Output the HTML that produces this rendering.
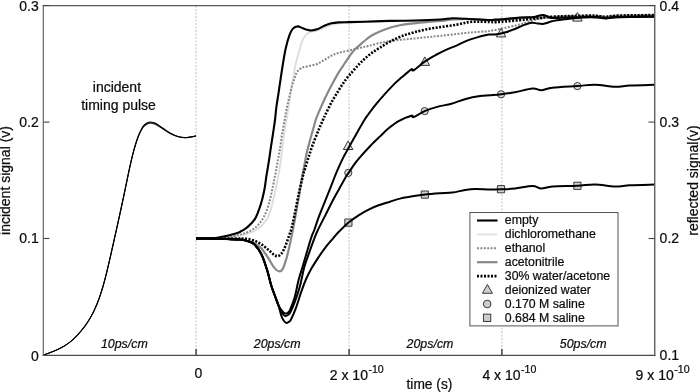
<!DOCTYPE html>
<html><head><meta charset="utf-8"><title>TDR plot</title>
<style>html,body{margin:0;padding:0;background:#fff}body{width:700px;height:392px;position:relative;overflow:hidden}</style></head>
<body>
<svg width="700" height="392" viewBox="0 0 700 392" style="position:absolute;left:0;top:0">
<line x1="196.1" y1="5.5" x2="196.1" y2="355.0" stroke="#c6c6c6" stroke-width="1.1" stroke-dasharray="2.1,1.4"/>
<line x1="349.1" y1="5.5" x2="349.1" y2="355.0" stroke="#c6c6c6" stroke-width="1.1" stroke-dasharray="2.1,1.4"/>
<line x1="501.9" y1="5.5" x2="501.9" y2="355.0" stroke="#c6c6c6" stroke-width="1.1" stroke-dasharray="2.1,1.4"/>
<g fill="none" stroke-linejoin="round">
<path d="M43.60,355.00C45.38,354.33 50.85,352.50 54.30,351.00C57.75,349.50 61.19,347.90 64.30,346.00C67.41,344.10 70.14,342.15 72.97,339.60C75.81,337.05 78.85,333.67 81.33,330.71C83.81,327.74 85.91,324.78 87.84,321.82C89.78,318.85 91.42,315.89 92.95,312.93C94.47,309.96 95.78,307.00 97.00,304.03C98.22,301.07 99.28,298.11 100.28,295.14C101.29,292.18 102.18,289.22 103.04,286.25C103.90,283.29 104.68,280.32 105.44,277.36C106.21,274.40 106.92,271.43 107.63,268.47C108.34,265.51 109.02,262.54 109.71,259.58C110.39,256.61 111.05,253.65 111.72,250.69C112.39,247.72 113.05,244.76 113.71,241.80C114.38,238.83 115.04,235.87 115.70,232.90C116.36,229.94 117.02,226.98 117.68,224.01C118.33,221.05 118.99,218.09 119.64,215.12C120.29,212.16 120.93,209.19 121.57,206.23C122.21,203.27 122.84,200.30 123.46,197.34C124.09,194.38 124.70,191.41 125.32,188.45C125.94,185.48 126.55,182.52 127.16,179.56C127.78,176.59 128.39,173.63 129.03,170.67C129.67,167.70 130.30,164.74 130.99,161.77C131.68,158.81 132.37,155.85 133.15,152.88C133.92,149.92 134.72,146.96 135.65,143.99C136.57,141.03 137.47,138.00 138.68,135.10C139.89,132.20 141.50,128.62 142.90,126.60C144.30,124.58 145.80,123.77 147.10,123.00C148.40,122.23 149.27,121.93 150.70,122.00C152.13,122.07 153.67,122.35 155.70,123.40C157.73,124.45 160.52,126.70 162.90,128.30C165.28,129.90 167.63,131.67 170.00,133.00C172.37,134.33 174.72,135.53 177.10,136.30C179.48,137.07 181.92,137.50 184.30,137.60C186.68,137.70 189.45,137.18 191.40,136.90C193.35,136.62 195.23,136.07 196.00,135.90" stroke="#000" stroke-width="1.2"/>
<path d="M43.60,355.00C45.38,354.33 50.85,352.50 54.30,351.00C57.75,349.50 61.19,347.90 64.30,346.00C67.41,344.10 70.14,342.15 72.97,339.60C75.81,337.05 78.85,333.67 81.33,330.71C83.81,327.74 85.91,324.78 87.84,321.82C89.78,318.85 91.42,315.89 92.95,312.93C94.47,309.96 95.78,307.00 97.00,304.03C98.22,301.07 99.28,298.11 100.28,295.14C101.29,292.18 102.18,289.22 103.04,286.25C103.90,283.29 104.68,280.32 105.44,277.36C106.21,274.40 106.92,271.43 107.63,268.47C108.34,265.51 109.02,262.54 109.71,259.58C110.39,256.61 111.05,253.65 111.72,250.69C112.39,247.72 113.05,244.76 113.71,241.80C114.38,238.83 115.04,235.87 115.70,232.90C116.36,229.94 117.02,226.98 117.68,224.01C118.33,221.05 118.99,218.09 119.64,215.12C120.29,212.16 120.93,209.19 121.57,206.23C122.21,203.27 122.84,200.30 123.46,197.34C124.09,194.38 124.70,191.41 125.32,188.45C125.94,185.48 126.55,182.52 127.16,179.56C127.78,176.59 128.39,173.63 129.03,170.67C129.67,167.70 130.30,164.74 130.99,161.77C131.68,158.81 132.37,155.75 133.15,152.88C133.92,150.02 134.72,147.46 135.65,144.59C136.57,141.73 137.47,138.48 138.68,135.70C139.89,132.92 141.50,129.80 142.90,127.90C144.30,126.00 145.80,125.07 147.10,124.30C148.40,123.53 149.27,123.23 150.70,123.30C152.13,123.37 153.67,123.77 155.70,124.70C157.73,125.63 160.52,127.52 162.90,128.90C165.28,130.28 167.63,131.77 170.00,133.00C172.37,134.23 174.72,135.53 177.10,136.30C179.48,137.07 181.92,137.50 184.30,137.60C186.68,137.70 189.45,137.18 191.40,136.90C193.35,136.62 195.23,136.07 196.00,135.90" stroke="#000" stroke-width="0.8"/>
<path d="M43.60,355.00C45.38,354.33 50.85,352.50 54.30,351.00C57.75,349.50 61.19,347.90 64.30,346.00C67.41,344.10 70.14,342.15 72.97,339.60C75.81,337.05 78.85,333.67 81.33,330.71C83.81,327.74 85.91,324.78 87.84,321.82C89.78,318.85 91.42,315.89 92.95,312.93C94.47,309.96 95.78,307.00 97.00,304.03C98.22,301.07 99.28,298.11 100.28,295.14C101.29,292.18 102.18,289.22 103.04,286.25C103.90,283.29 104.68,280.32 105.44,277.36C106.21,274.40 106.92,271.43 107.63,268.47C108.34,265.51 109.02,262.54 109.71,259.58C110.39,256.61 111.05,253.65 111.72,250.69C112.39,247.72 113.05,244.76 113.71,241.80C114.38,238.83 115.04,235.87 115.70,232.90C116.36,229.94 117.02,226.98 117.68,224.01C118.33,221.05 118.99,218.09 119.64,215.12C120.29,212.16 120.93,209.19 121.57,206.23C122.21,203.27 122.84,200.30 123.46,197.34C124.09,194.38 124.70,191.41 125.32,188.45C125.94,185.48 126.55,182.52 127.16,179.56C127.78,176.59 128.39,173.63 129.03,170.67C129.67,167.70 130.30,164.74 130.99,161.77C131.68,158.81 132.37,155.85 133.15,152.88C133.92,149.92 134.72,146.84 135.65,143.99C136.57,141.14 137.47,138.58 138.68,135.80C139.89,133.02 141.50,129.32 142.90,127.30C144.30,125.28 145.80,124.47 147.10,123.70C148.40,122.93 149.27,122.63 150.70,122.70C152.13,122.77 153.67,123.05 155.70,124.10C157.73,125.15 160.52,127.40 162.90,129.00C165.28,130.60 167.63,132.48 170.00,133.70C172.37,134.92 174.72,135.65 177.10,136.30C179.48,136.95 181.92,137.50 184.30,137.60C186.68,137.70 189.45,137.18 191.40,136.90C193.35,136.62 195.23,136.07 196.00,135.90" stroke="#000" stroke-width="0.7"/>
<path d="M196.10,238.40C199.25,238.37 209.77,238.33 215.00,238.20C220.23,238.07 223.52,238.03 227.50,237.60C231.48,237.17 235.82,236.20 238.90,235.60C241.98,235.00 243.43,234.77 246.00,234.00C248.57,233.23 251.73,232.33 254.30,231.00C256.87,229.67 259.13,228.27 261.40,226.00C263.67,223.73 266.12,220.97 267.90,217.40C269.68,213.83 270.85,209.12 272.10,204.60C273.35,200.08 274.37,195.07 275.40,190.30C276.43,185.53 277.30,181.77 278.30,176.00C279.30,170.23 280.45,162.65 281.40,155.70C282.35,148.75 283.17,140.25 284.00,134.30C284.83,128.35 285.57,125.05 286.40,120.00C287.23,114.95 288.15,109.33 289.00,104.00C289.85,98.67 290.73,92.77 291.50,88.00C292.27,83.23 292.90,79.40 293.60,75.40C294.30,71.40 294.87,67.75 295.70,64.00C296.53,60.25 297.53,56.67 298.60,52.90C299.67,49.13 300.92,44.38 302.10,41.40C303.28,38.42 304.38,36.55 305.70,35.00C307.02,33.45 308.10,32.82 310.00,32.10C311.90,31.38 314.72,31.40 317.10,30.70C319.48,30.00 321.92,28.85 324.30,27.90C326.68,26.95 329.27,25.72 331.40,25.00C333.53,24.28 334.83,23.97 337.10,23.60C339.37,23.23 342.85,22.95 345.00,22.80C347.15,22.65 346.67,22.88 350.00,22.70C353.33,22.52 358.33,21.98 365.00,21.70C371.67,21.42 381.67,21.17 390.00,21.00C398.33,20.83 406.67,20.90 415.00,20.70C423.33,20.50 433.75,20.15 440.00,19.80C446.25,19.45 448.33,18.73 452.50,18.60C456.67,18.47 458.75,18.72 465.00,19.00C471.25,19.28 483.92,20.20 490.00,20.30C496.08,20.40 496.58,20.00 501.50,19.60C506.42,19.20 514.47,18.25 519.50,17.90C524.53,17.55 528.28,17.58 531.70,17.50C535.12,17.42 537.45,17.37 540.00,17.40C542.55,17.43 543.43,17.77 547.00,17.70C550.57,17.63 556.62,17.18 561.40,17.00C566.18,16.82 570.93,16.72 575.70,16.60C580.47,16.48 586.18,16.30 590.00,16.30C593.82,16.30 595.98,16.40 598.60,16.60C601.22,16.80 602.85,17.53 605.70,17.50C608.55,17.47 610.93,16.65 615.70,16.40C620.47,16.15 627.87,16.10 634.30,16.00C640.73,15.90 650.97,15.83 654.30,15.80" stroke="#dcdcdc" stroke-width="1.8"/>
<path d="M196.10,238.40C199.25,238.37 209.77,238.37 215.00,238.20C220.23,238.03 223.52,237.95 227.50,237.40C231.48,236.85 236.15,235.57 238.90,234.90C241.65,234.23 242.15,234.05 244.00,233.40C245.85,232.75 247.82,232.23 250.00,231.00C252.18,229.77 254.83,228.27 257.10,226.00C259.37,223.73 261.68,220.97 263.60,217.40C265.52,213.83 267.18,209.12 268.60,204.60C270.02,200.08 271.03,195.07 272.10,190.30C273.17,185.53 274.12,180.57 275.00,176.00C275.88,171.43 276.57,167.47 277.40,162.90C278.23,158.33 279.22,153.37 280.00,148.60C280.78,143.83 281.33,139.07 282.10,134.30C282.87,129.53 283.88,124.10 284.60,120.00C285.32,115.90 285.62,113.55 286.40,109.70C287.18,105.85 288.35,100.95 289.30,96.90C290.25,92.85 291.15,88.73 292.10,85.40C293.05,82.07 294.17,79.15 295.00,76.90C295.83,74.65 296.03,73.38 297.10,71.90C298.17,70.42 299.48,68.97 301.40,68.00C303.32,67.03 305.98,66.77 308.60,66.10C311.22,65.43 314.48,65.02 317.10,64.00C319.72,62.98 321.92,61.38 324.30,60.00C326.68,58.62 329.02,56.88 331.40,55.70C333.78,54.52 335.73,53.75 338.60,52.90C341.47,52.05 345.03,51.43 348.60,50.60C352.17,49.77 356.67,48.68 360.00,47.90C363.33,47.12 364.78,46.83 368.60,45.90C372.42,44.97 378.15,43.25 382.90,42.30C387.65,41.35 392.35,40.78 397.10,40.20C401.85,39.62 406.63,39.28 411.40,38.80C416.17,38.32 420.93,37.78 425.70,37.30C430.47,36.82 434.77,36.47 440.00,35.90C445.23,35.33 451.87,34.48 457.10,33.90C462.33,33.32 466.63,32.82 471.40,32.40C476.17,31.98 481.77,31.80 485.70,31.40C489.63,31.00 491.82,30.57 495.00,30.00C498.18,29.43 501.40,28.73 504.80,28.00C508.20,27.27 512.55,26.28 515.40,25.60C518.25,24.92 519.85,24.52 521.90,23.90C523.95,23.28 525.52,22.58 527.70,21.90C529.88,21.22 532.78,20.38 535.00,19.80C537.22,19.22 539.00,18.72 541.00,18.40C543.00,18.08 543.60,18.10 547.00,17.90C550.40,17.70 556.62,17.38 561.40,17.20C566.18,17.02 570.93,16.92 575.70,16.80C580.47,16.68 586.18,16.50 590.00,16.50C593.82,16.50 595.98,16.60 598.60,16.80C601.22,17.00 602.85,17.73 605.70,17.70C608.55,17.67 610.93,16.85 615.70,16.60C620.47,16.35 627.87,16.30 634.30,16.20C640.73,16.10 650.97,16.03 654.30,16.00" stroke="#858585" stroke-width="2" stroke-dasharray="1.9,1.5"/>
<path d="M196.10,238.40C199.25,238.43 207.68,238.38 215.00,238.60C222.32,238.82 234.67,239.35 240.00,239.75C245.33,240.15 244.62,240.47 247.00,241.00C249.38,241.53 251.90,241.63 254.30,242.90C256.70,244.17 259.02,245.98 261.40,248.60C263.78,251.22 266.45,255.38 268.60,258.60C270.75,261.82 272.52,265.77 274.30,267.90C276.08,270.03 277.87,271.28 279.30,271.40C280.73,271.52 281.72,270.73 282.90,268.60C284.08,266.47 285.33,262.18 286.40,258.60C287.47,255.02 288.47,250.68 289.30,247.10C290.13,243.52 290.80,239.95 291.40,237.10C292.00,234.25 292.13,234.02 292.90,230.00C293.67,225.98 294.98,218.67 296.00,213.00C297.02,207.33 298.08,201.42 299.00,196.00C299.92,190.58 300.62,185.55 301.50,180.50C302.38,175.45 303.48,170.07 304.30,165.70C305.12,161.33 305.57,158.10 306.40,154.30C307.23,150.50 308.22,146.95 309.30,142.90C310.38,138.85 311.83,133.82 312.90,130.00C313.97,126.18 314.75,122.90 315.70,120.00C316.65,117.10 317.17,115.98 318.60,112.60C320.03,109.22 322.17,104.23 324.30,99.70C326.43,95.17 329.02,89.92 331.40,85.40C333.78,80.88 336.45,76.17 338.60,72.60C340.75,69.03 342.40,66.85 344.30,64.00C346.20,61.15 348.33,57.83 350.00,55.50C351.67,53.17 352.63,51.78 354.30,50.00C355.97,48.22 357.62,46.87 360.00,44.80C362.38,42.73 366.10,39.43 368.60,37.60C371.10,35.77 372.62,35.03 375.00,33.80C377.38,32.57 380.40,31.22 382.90,30.20C385.40,29.18 387.63,28.43 390.00,27.70C392.37,26.97 393.53,26.47 397.10,25.80C400.67,25.13 406.63,24.30 411.40,23.70C416.17,23.10 420.93,22.67 425.70,22.20C430.47,21.73 437.13,21.15 440.00,20.90C442.87,20.65 440.82,20.93 442.90,20.70C444.98,20.47 448.82,19.80 452.50,19.50C456.18,19.20 460.83,18.90 465.00,18.90C469.17,18.90 473.33,19.28 477.50,19.50C481.67,19.72 486.00,20.17 490.00,20.20C494.00,20.23 496.58,20.07 501.50,19.70C506.42,19.33 514.47,18.35 519.50,18.00C524.53,17.65 528.28,17.68 531.70,17.60C535.12,17.52 537.45,17.57 540.00,17.50C542.55,17.43 543.43,17.37 547.00,17.20C550.57,17.03 556.62,16.68 561.40,16.50C566.18,16.32 570.93,16.22 575.70,16.10C580.47,15.98 586.18,15.80 590.00,15.80C593.82,15.80 595.98,15.90 598.60,16.10C601.22,16.30 602.85,17.03 605.70,17.00C608.55,16.97 610.93,16.15 615.70,15.90C620.47,15.65 627.87,15.60 634.30,15.50C640.73,15.40 650.97,15.33 654.30,15.30" stroke="#888" stroke-width="2.2"/>
<path d="M343.30,149.50 L352.90,149.50 L348.10,141.00 Z" fill="#dedede" stroke="#3a3a3a" stroke-width="1" stroke-linejoin="miter"/>
<path d="M420.00,65.40 L429.60,65.40 L424.80,56.90 Z" fill="#dedede" stroke="#3a3a3a" stroke-width="1" stroke-linejoin="miter"/>
<path d="M496.30,36.90 L505.90,36.90 L501.10,28.40 Z" fill="#dedede" stroke="#3a3a3a" stroke-width="1" stroke-linejoin="miter"/>
<path d="M572.60,21.10 L582.20,21.10 L577.40,12.60 Z" fill="#dedede" stroke="#3a3a3a" stroke-width="1" stroke-linejoin="miter"/>
<circle cx="348.30" cy="172.90" r="3.60" fill="#dadada" stroke="#3a3a3a" stroke-width="1"/>
<circle cx="424.70" cy="111.10" r="3.60" fill="#dadada" stroke="#3a3a3a" stroke-width="1"/>
<circle cx="501.10" cy="94.30" r="3.60" fill="#dadada" stroke="#3a3a3a" stroke-width="1"/>
<circle cx="577.40" cy="86.10" r="3.60" fill="#dadada" stroke="#3a3a3a" stroke-width="1"/>
<rect x="344.80" y="219.00" width="7.20" height="7.20" fill="#d0d0d0" stroke="#3a3a3a" stroke-width="1"/>
<rect x="421.20" y="191.00" width="7.20" height="7.20" fill="#d0d0d0" stroke="#3a3a3a" stroke-width="1"/>
<rect x="497.40" y="185.60" width="7.20" height="7.20" fill="#d0d0d0" stroke="#3a3a3a" stroke-width="1"/>
<rect x="573.80" y="182.20" width="7.20" height="7.20" fill="#d0d0d0" stroke="#3a3a3a" stroke-width="1"/>
<path d="M196.10,238.40C199.25,238.45 209.77,238.58 215.00,238.70C220.23,238.82 223.52,238.95 227.50,239.10C231.48,239.25 235.63,239.30 238.90,239.60C242.17,239.90 244.53,240.12 247.10,240.90C249.67,241.68 251.92,242.07 254.30,244.30C256.68,246.53 259.27,250.02 261.40,254.30C263.53,258.58 265.43,264.72 267.10,270.00C268.77,275.28 270.08,281.67 271.40,286.00C272.72,290.33 273.80,292.72 275.00,296.00C276.20,299.28 277.35,303.12 278.60,305.70C279.85,308.28 281.37,310.18 282.50,311.50C283.63,312.82 284.48,313.43 285.40,313.60C286.32,313.77 287.23,313.10 288.00,312.50C288.77,311.90 288.95,312.32 290.00,310.00C291.05,307.68 293.23,301.93 294.30,298.60C295.37,295.27 295.68,293.10 296.40,290.00C297.12,286.90 297.52,284.05 298.60,280.00C299.68,275.95 301.48,270.47 302.90,265.70C304.32,260.93 305.68,256.17 307.10,251.40C308.52,246.63 310.20,240.67 311.40,237.10C312.60,233.53 313.10,233.28 314.30,230.00C315.50,226.72 316.93,221.88 318.60,217.40C320.27,212.92 322.40,207.85 324.30,203.10C326.20,198.35 328.22,193.42 330.00,188.90C331.78,184.38 333.65,179.38 335.00,176.00C336.35,172.62 336.68,171.75 338.10,168.60C339.52,165.45 341.42,161.15 343.50,157.10C345.58,153.05 348.22,148.58 350.60,144.30C352.98,140.02 355.50,135.45 357.80,131.40C360.10,127.35 362.60,122.90 364.40,120.00C366.20,117.10 366.72,116.55 368.60,114.00C370.48,111.45 373.08,107.92 375.70,104.70C378.32,101.48 381.43,97.92 384.30,94.70C387.17,91.48 390.05,88.25 392.90,85.40C395.75,82.55 398.32,80.28 401.40,77.60C404.48,74.92 409.37,70.52 411.40,69.30C413.43,68.08 411.33,71.62 413.60,70.30C415.87,68.98 421.32,63.95 425.00,61.40C428.68,58.85 432.02,57.02 435.70,55.00C439.38,52.98 443.53,50.92 447.10,49.30C450.67,47.68 453.77,46.75 457.10,45.30C460.43,43.85 463.77,41.92 467.10,40.60C470.43,39.28 473.52,38.40 477.10,37.40C480.68,36.40 485.62,35.08 488.60,34.60C491.58,34.12 492.30,34.85 495.00,34.50C497.70,34.15 501.40,33.45 504.80,32.50C508.20,31.55 512.27,30.03 515.40,28.80C518.53,27.57 520.88,26.12 523.60,25.10C526.32,24.08 529.40,22.97 531.70,22.70C534.00,22.43 535.63,23.30 537.40,23.50C539.17,23.70 540.87,23.95 542.30,23.90C543.73,23.85 544.55,23.60 546.00,23.20C547.45,22.80 549.17,21.98 551.00,21.50C552.83,21.02 554.78,20.67 557.00,20.30C559.22,19.93 561.18,19.70 564.30,19.30C567.42,18.90 571.42,18.25 575.70,17.90C579.98,17.55 586.18,17.27 590.00,17.20C593.82,17.13 595.98,17.30 598.60,17.50C601.22,17.70 602.85,18.43 605.70,18.40C608.55,18.37 610.93,17.55 615.70,17.30C620.47,17.05 627.87,17.00 634.30,16.90C640.73,16.80 650.97,16.73 654.30,16.70" stroke="#000" stroke-width="2"/>
<path d="M196.10,238.40C199.25,238.45 209.77,238.58 215.00,238.70C220.23,238.82 223.52,238.95 227.50,239.10C231.48,239.25 235.63,239.30 238.90,239.60C242.17,239.90 244.53,240.12 247.10,240.90C249.67,241.68 251.92,242.07 254.30,244.30C256.68,246.53 259.27,250.02 261.40,254.30C263.53,258.58 265.43,264.72 267.10,270.00C268.77,275.28 270.08,281.67 271.40,286.00C272.72,290.33 273.80,292.72 275.00,296.00C276.20,299.28 277.35,302.78 278.60,305.70C279.85,308.62 281.37,311.78 282.50,313.50C283.63,315.22 284.45,315.78 285.40,316.00C286.35,316.22 287.35,315.47 288.20,314.80C289.05,314.13 289.40,314.13 290.50,312.00C291.60,309.87 293.22,306.33 294.80,302.00C296.38,297.67 298.42,291.82 300.00,286.00C301.58,280.18 302.87,272.38 304.30,267.10C305.73,261.82 306.93,259.05 308.60,254.30C310.27,249.55 312.75,242.65 314.30,238.60C315.85,234.55 316.00,234.00 317.90,230.00C319.80,226.00 323.20,219.55 325.70,214.60C328.20,209.65 330.52,204.83 332.90,200.30C335.28,195.77 337.75,191.45 340.00,187.40C342.25,183.35 344.97,178.42 346.40,176.00C347.83,173.58 347.28,174.85 348.60,172.90C349.92,170.95 352.17,167.17 354.30,164.30C356.43,161.43 358.78,158.72 361.40,155.70C364.02,152.68 366.90,149.42 370.00,146.20C373.10,142.98 376.90,139.38 380.00,136.40C383.10,133.42 385.50,130.85 388.60,128.30C391.70,125.75 394.80,123.20 398.60,121.10C402.40,119.00 408.90,116.37 411.40,115.70C413.90,115.03 411.38,117.87 413.60,117.10C415.82,116.33 420.78,112.80 424.70,111.10C428.62,109.40 432.65,108.13 437.10,106.90C441.55,105.67 446.63,105.02 451.40,103.70C456.17,102.38 460.93,100.27 465.70,99.00C470.47,97.73 475.95,96.72 480.00,96.10C484.05,95.48 486.46,95.61 490.00,95.30C493.54,94.99 497.08,94.76 501.25,94.25C505.42,93.74 509.79,93.21 515.00,92.25C520.21,91.29 528.12,88.83 532.50,88.50C536.88,88.17 537.92,90.38 541.25,90.25C544.58,90.12 546.46,88.46 552.50,87.75C558.54,87.04 570.42,86.50 577.50,86.00C584.58,85.50 588.75,84.62 595.00,84.75C601.25,84.88 609.17,86.62 615.00,86.75C620.83,86.88 623.45,85.83 630.00,85.50C636.55,85.17 650.25,84.88 654.30,84.75" stroke="#000" stroke-width="2"/>
<path d="M196.10,238.40C199.25,238.45 209.77,238.58 215.00,238.70C220.23,238.82 223.52,238.95 227.50,239.10C231.48,239.25 235.63,239.30 238.90,239.60C242.17,239.90 244.53,240.12 247.10,240.90C249.67,241.68 251.92,242.07 254.30,244.30C256.68,246.53 259.27,250.02 261.40,254.30C263.53,258.58 265.43,264.72 267.10,270.00C268.77,275.28 270.08,281.67 271.40,286.00C272.72,290.33 273.80,292.72 275.00,296.00C276.20,299.28 277.53,302.37 278.60,305.70C279.67,309.03 280.50,313.45 281.40,316.00C282.30,318.55 283.17,319.85 284.00,321.00C284.83,322.15 285.65,322.73 286.40,322.90C287.15,323.07 287.78,322.48 288.50,322.00C289.22,321.52 289.50,322.23 290.70,320.00C291.90,317.77 293.92,313.37 295.70,308.60C297.48,303.83 299.73,296.17 301.40,291.40C303.07,286.63 304.03,283.80 305.70,280.00C307.37,276.20 309.25,272.42 311.40,268.60C313.55,264.78 316.22,260.68 318.60,257.10C320.98,253.52 323.32,250.18 325.70,247.10C328.08,244.02 330.75,241.12 332.90,238.60C335.05,236.08 335.98,234.70 338.60,232.00C341.22,229.30 345.27,225.18 348.60,222.40C351.93,219.62 355.27,217.43 358.60,215.30C361.93,213.17 365.27,211.27 368.60,209.60C371.93,207.93 375.03,206.62 378.60,205.30C382.17,203.98 386.43,202.82 390.00,201.70C393.57,200.58 396.25,199.51 400.00,198.60C403.75,197.69 408.33,196.93 412.50,196.25C416.67,195.57 420.42,195.00 425.00,194.50C429.58,194.00 435.42,193.58 440.00,193.25C444.58,192.92 448.33,193.04 452.50,192.50C456.67,191.96 461.25,190.58 465.00,190.00C468.75,189.42 470.83,189.08 475.00,189.00C479.17,188.92 485.62,189.46 490.00,189.50C494.38,189.54 497.08,189.42 501.25,189.25C505.42,189.08 509.79,189.04 515.00,188.50C520.21,187.96 528.12,186.00 532.50,186.00C536.88,186.00 537.92,188.42 541.25,188.50C544.58,188.58 546.46,186.96 552.50,186.50C558.54,186.04 570.42,186.08 577.50,185.75C584.58,185.42 588.75,184.38 595.00,184.50C601.25,184.62 609.17,186.38 615.00,186.50C620.83,186.62 623.45,185.57 630.00,185.25C636.55,184.93 650.25,184.71 654.30,184.60" stroke="#000" stroke-width="2"/>
<path d="M196.10,238.40C199.25,238.42 207.87,238.48 215.00,238.50C222.13,238.52 233.73,238.47 238.90,238.50C244.07,238.53 243.43,238.33 246.00,238.70C248.57,239.07 251.73,239.77 254.30,240.70C256.87,241.63 259.02,242.75 261.40,244.30C263.78,245.85 266.45,248.22 268.60,250.00C270.75,251.78 272.75,253.98 274.30,255.00C275.85,256.02 276.72,256.33 277.90,256.10C279.08,255.87 280.33,254.85 281.40,253.60C282.47,252.35 283.35,250.63 284.30,248.60C285.25,246.57 286.27,243.67 287.10,241.40C287.93,239.13 288.58,237.07 289.30,235.00C290.02,232.93 290.57,232.17 291.40,229.00C292.23,225.83 293.10,221.73 294.30,216.00C295.50,210.27 297.17,201.27 298.60,194.60C300.03,187.93 301.83,180.33 302.90,176.00C303.97,171.67 304.05,171.75 305.00,168.60C305.95,165.45 307.28,161.15 308.60,157.10C309.92,153.05 311.23,148.82 312.90,144.30C314.57,139.78 316.93,134.05 318.60,130.00C320.27,125.95 321.72,122.67 322.90,120.00C324.08,117.33 324.28,116.90 325.70,114.00C327.12,111.10 329.25,106.53 331.40,102.60C333.55,98.67 336.22,94.22 338.60,90.40C340.98,86.58 343.32,82.92 345.70,79.70C348.08,76.48 350.63,73.72 352.90,71.10C355.17,68.48 357.28,66.10 359.30,64.00C361.32,61.90 362.88,60.37 365.00,58.50C367.12,56.63 369.50,54.62 372.00,52.80C374.50,50.98 377.00,49.47 380.00,47.60C383.00,45.73 386.32,43.53 390.00,41.60C393.68,39.67 398.05,37.55 402.10,36.00C406.15,34.45 409.88,33.48 414.30,32.30C418.72,31.12 423.83,29.83 428.60,28.90C433.37,27.97 438.15,27.42 442.90,26.70C447.65,25.98 452.82,25.37 457.10,24.60C461.38,23.83 464.78,22.58 468.60,22.10C472.42,21.62 476.43,21.72 480.00,21.70C483.57,21.68 487.50,21.93 490.00,22.00C492.50,22.07 493.08,22.13 495.00,22.10C496.92,22.07 497.42,22.12 501.50,21.80C505.58,21.48 514.47,20.68 519.50,20.20C524.53,19.72 528.28,19.27 531.70,18.90C535.12,18.53 537.45,18.32 540.00,18.00C542.55,17.68 543.43,17.28 547.00,17.00C550.57,16.72 556.62,16.48 561.40,16.30C566.18,16.12 570.93,16.02 575.70,15.90C580.47,15.78 586.18,15.60 590.00,15.60C593.82,15.60 595.98,15.70 598.60,15.90C601.22,16.10 602.85,16.83 605.70,16.80C608.55,16.77 610.93,15.95 615.70,15.70C620.47,15.45 627.87,15.40 634.30,15.30C640.73,15.20 650.97,15.13 654.30,15.10" stroke="#000" stroke-width="2.6" stroke-dasharray="2,1.5"/>
<path d="M196.10,238.40C198.92,238.37 208.25,238.55 213.00,238.20C217.75,237.85 221.43,236.90 224.60,236.30C227.77,235.70 229.62,235.25 232.00,234.60C234.38,233.95 237.33,233.00 238.90,232.40C240.47,231.80 240.03,231.83 241.40,231.00C242.77,230.17 244.83,229.42 247.10,227.40C249.37,225.38 252.73,222.70 255.00,218.90C257.27,215.10 259.15,209.37 260.70,204.60C262.25,199.83 263.35,195.07 264.30,190.30C265.25,185.53 265.68,180.57 266.40,176.00C267.12,171.43 267.88,167.47 268.60,162.90C269.32,158.33 269.98,153.37 270.70,148.60C271.42,143.83 272.18,139.07 272.90,134.30C273.62,129.53 274.42,124.57 275.00,120.00C275.58,115.43 275.80,111.47 276.40,106.90C277.00,102.33 277.88,97.37 278.60,92.60C279.32,87.83 279.98,83.07 280.70,78.30C281.42,73.53 282.07,68.95 282.90,64.00C283.73,59.05 284.63,53.32 285.70,48.60C286.77,43.88 288.10,39.03 289.30,35.70C290.50,32.37 291.47,30.15 292.90,28.60C294.33,27.05 296.23,26.45 297.90,26.40C299.57,26.35 300.88,27.63 302.90,28.30C304.92,28.97 307.63,30.23 310.00,30.40C312.37,30.57 314.72,30.08 317.10,29.30C319.48,28.52 321.92,26.70 324.30,25.70C326.68,24.70 329.02,23.85 331.40,23.30C333.78,22.75 335.73,22.60 338.60,22.40C341.47,22.20 344.20,22.22 348.60,22.10C353.00,21.98 358.10,21.90 365.00,21.70C371.90,21.50 381.67,21.10 390.00,20.90C398.33,20.70 406.67,20.73 415.00,20.50C423.33,20.27 433.75,19.88 440.00,19.50C446.25,19.12 448.33,18.38 452.50,18.25C456.67,18.12 458.75,18.46 465.00,18.75C471.25,19.04 485.00,19.86 490.00,20.00C495.00,20.14 493.08,19.70 495.00,19.60C496.92,19.50 497.42,19.73 501.50,19.40C505.58,19.07 514.47,17.97 519.50,17.60C524.53,17.23 528.95,17.37 531.70,17.20C534.45,17.03 534.70,16.90 536.00,16.60C537.30,16.30 538.33,15.67 539.50,15.40C540.67,15.13 541.83,14.90 543.00,15.00C544.17,15.10 545.33,15.55 546.50,16.00C547.67,16.45 548.58,17.37 550.00,17.70C551.42,18.03 553.10,18.00 555.00,18.00C556.90,18.00 557.95,17.82 561.40,17.70C564.85,17.58 570.93,17.42 575.70,17.30C580.47,17.18 586.18,17.00 590.00,17.00C593.82,17.00 595.98,17.10 598.60,17.30C601.22,17.50 602.85,18.23 605.70,18.20C608.55,18.17 610.93,17.35 615.70,17.10C620.47,16.85 627.87,16.80 634.30,16.70C640.73,16.60 650.97,16.53 654.30,16.50" stroke="#000" stroke-width="2.1"/>
</g>
<line x1="43.3" y1="5.1" x2="43.3" y2="355.9" stroke="#666" stroke-width="1.2"/>
<line x1="42.7" y1="5.7" x2="655.4" y2="5.7" stroke="#585858" stroke-width="1.2"/>
<line x1="654.75" y1="5.1" x2="654.75" y2="355.95" stroke="#555" stroke-width="1.3"/>
<line x1="42.7" y1="355.3" x2="655.4" y2="355.3" stroke="#4c4c4c" stroke-width="1.3"/>
<line x1="43.5" y1="5.5" x2="49.5" y2="5.5" stroke="#444" stroke-width="1.1"/>
<line x1="648.5" y1="5.5" x2="654.8" y2="5.5" stroke="#444" stroke-width="1.1"/>
<line x1="43.5" y1="122.1" x2="49.5" y2="122.1" stroke="#444" stroke-width="1.1"/>
<line x1="648.5" y1="122.1" x2="654.8" y2="122.1" stroke="#444" stroke-width="1.1"/>
<line x1="43.5" y1="238.5" x2="49.5" y2="238.5" stroke="#444" stroke-width="1.1"/>
<line x1="648.5" y1="238.5" x2="654.8" y2="238.5" stroke="#444" stroke-width="1.1"/>
<line x1="196.1" y1="349.0" x2="196.1" y2="355.0" stroke="#444" stroke-width="1.5"/>
<line x1="349.1" y1="349.0" x2="349.1" y2="355.0" stroke="#444" stroke-width="1.5"/>
<line x1="501.9" y1="349.0" x2="501.9" y2="355.0" stroke="#444" stroke-width="1.5"/>
<rect x="469.9" y="212.5" width="148.1" height="113.4" fill="#fff" stroke="#555" stroke-width="1"/>
<line x1="477" y1="220.5" x2="497.5" y2="220.5" stroke="#000" stroke-width="2.1"/>
<line x1="477" y1="234.4" x2="497.5" y2="234.4" stroke="#e2e2e2" stroke-width="1.8"/>
<line x1="477" y1="248.3" x2="497.5" y2="248.3" stroke="#858585" stroke-width="2" stroke-dasharray="1.9,1.5"/>
<line x1="477" y1="262.2" x2="497.5" y2="262.2" stroke="#888" stroke-width="2.2"/>
<line x1="477" y1="276.1" x2="497.5" y2="276.1" stroke="#000" stroke-width="2.6" stroke-dasharray="2,1.5"/>
<path d="M482.40,293.30 L492.40,293.30 L487.40,284.50 Z" fill="#cecece" stroke="#3a3a3a" stroke-width="1" stroke-linejoin="miter"/>
<circle cx="487.20" cy="304.00" r="3.80" fill="#cecece" stroke="#3a3a3a" stroke-width="1"/>
<rect x="483.45" y="314.15" width="7.30" height="7.30" fill="#cecece" stroke="#3a3a3a" stroke-width="1"/>
<g font-family="Liberation Sans, Arial, sans-serif" fill="#0c0c0c" stroke="#0c0c0c" stroke-width="0.22">
<text x="504.8" y="224.4" font-size="12.3">empty</text>
<text x="504.8" y="238.3" font-size="12.3">dichloromethane</text>
<text x="504.8" y="252.2" font-size="12.3">ethanol</text>
<text x="504.8" y="266.1" font-size="12.3">acetonitrile</text>
<text x="504.8" y="280.0" font-size="12.3">30% water/acetone</text>
<text x="504.8" y="293.9" font-size="12.3">deionized water</text>
<text x="504.8" y="307.8" font-size="12.3">0.170 M saline</text>
<text x="504.8" y="321.6" font-size="12.3">0.684 M saline</text>
<text x="38.8" y="11.3" font-size="14.0" text-anchor="end">0.3</text>
<text x="38.8" y="126.9" font-size="14.0" text-anchor="end">0.2</text>
<text x="38.8" y="243.3" font-size="14.0" text-anchor="end">0.1</text>
<text x="38.8" y="360.6" font-size="14.0" text-anchor="end">0</text>
<text x="659.6" y="11.3" font-size="14.0">0.4</text>
<text x="659.6" y="126.9" font-size="14.0">0.3</text>
<text x="659.6" y="243.3" font-size="14.0">0.2</text>
<text x="659.6" y="360.1" font-size="14.0">0.1</text>
<text x="198.4" y="377.8" font-size="14.0" text-anchor="middle">0</text>
<text x="329.8" y="379.5" font-size="14.0">2 x 10<tspan dy="-6.4" dx="0.5" font-size="10.6">-10</tspan></text>
<text x="482.4" y="379.5" font-size="14.0">4 x 10<tspan dy="-6.4" dx="0.5" font-size="10.6">-10</tspan></text>
<text x="635.6" y="379.5" font-size="14.0">9 x 10<tspan dy="-6.4" dx="0.5" font-size="10.6">-10</tspan></text>
<text x="406.5" y="389.0" font-size="13.75">time (s)</text>
<text x="124.3" y="347.6" font-size="12.4" font-style="italic" text-anchor="middle">10ps/cm</text>
<text x="277.2" y="347.6" font-size="12.4" font-style="italic" text-anchor="middle">20ps/cm</text>
<text x="430.0" y="347.6" font-size="12.4" font-style="italic" text-anchor="middle">20ps/cm</text>
<text x="583.2" y="347.6" font-size="12.4" font-style="italic" text-anchor="middle">50ps/cm</text>
<text x="116.9" y="92" font-size="14" text-anchor="middle">incident</text>
<text x="118.5" y="109.7" font-size="14" text-anchor="middle">timing pulse</text>
<text transform="translate(10.1,180.5) rotate(-90)" font-size="14.0" text-anchor="middle">incident signal (v)</text>
<text transform="translate(697.7,180.5) rotate(-90)" font-size="14.0" text-anchor="middle">reflected signal(v)</text>
</g>
</svg>
</body></html>
